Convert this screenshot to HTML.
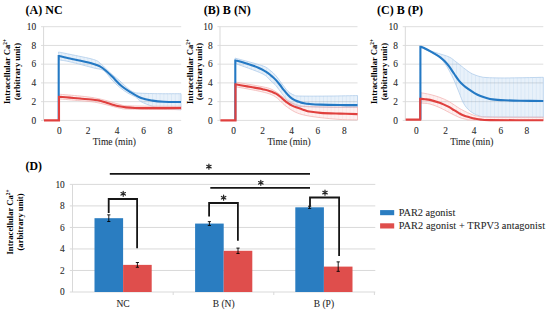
<!DOCTYPE html>
<html><head><meta charset="utf-8"><style>
html,body{margin:0;padding:0;background:#fff;width:550px;height:311px;overflow:hidden;}
svg{display:block;font-family:"Liberation Serif",serif;}
.t{fill:#262626;stroke:#262626;stroke-width:0.08px;}
.b{fill:#000;stroke:#000;stroke-width:0.1px;}
</style></head><body>
<svg width="550" height="311" viewBox="0 0 550 311">
<defs>
<pattern id="hb" width="3.8" height="10" patternUnits="userSpaceOnUse"><rect width="3.8" height="10" fill="#2a7fd0" fill-opacity="0.105"/><rect width="0.7" height="10" fill="#2a7fd0" fill-opacity="0.11"/></pattern>
<pattern id="hr" width="3.8" height="10" patternUnits="userSpaceOnUse"><rect width="3.8" height="10" fill="#e8403e" fill-opacity="0.08"/><rect width="0.7" height="10" fill="#e8403e" fill-opacity="0.08"/></pattern>
</defs>
<line x1="41.0" y1="120.40" x2="181.2" y2="120.40" stroke="#dedede" stroke-width="1"/>
<text x="36.2" y="123.50" font-family="Liberation Serif" font-size="9.4" text-anchor="end" class="t">0</text>
<line x1="41.0" y1="101.66" x2="181.2" y2="101.66" stroke="#dedede" stroke-width="1"/>
<text x="36.2" y="104.76" font-family="Liberation Serif" font-size="9.4" text-anchor="end" class="t">2</text>
<line x1="41.0" y1="82.92" x2="181.2" y2="82.92" stroke="#dedede" stroke-width="1"/>
<text x="36.2" y="86.02" font-family="Liberation Serif" font-size="9.4" text-anchor="end" class="t">4</text>
<line x1="41.0" y1="64.18" x2="181.2" y2="64.18" stroke="#dedede" stroke-width="1"/>
<text x="36.2" y="67.28" font-family="Liberation Serif" font-size="9.4" text-anchor="end" class="t">6</text>
<line x1="41.0" y1="45.44" x2="181.2" y2="45.44" stroke="#dedede" stroke-width="1"/>
<text x="36.2" y="48.54" font-family="Liberation Serif" font-size="9.4" text-anchor="end" class="t">8</text>
<line x1="41.0" y1="26.70" x2="181.2" y2="26.70" stroke="#dedede" stroke-width="1"/>
<text x="36.2" y="29.80" font-family="Liberation Serif" font-size="9.4" text-anchor="end" class="t">10</text>
<line x1="43.6" y1="26.70" x2="43.6" y2="120.40" stroke="#d9d9d9" stroke-width="1"/>
<text x="59.3" y="133.9" font-family="Liberation Serif" font-size="9.4" text-anchor="middle" class="t">0</text>
<text x="88.1" y="133.9" font-family="Liberation Serif" font-size="9.4" text-anchor="middle" class="t">2</text>
<text x="117.1" y="133.9" font-family="Liberation Serif" font-size="9.4" text-anchor="middle" class="t">4</text>
<text x="143.7" y="133.9" font-family="Liberation Serif" font-size="9.4" text-anchor="middle" class="t">6</text>
<text x="170.0" y="133.9" font-family="Liberation Serif" font-size="9.4" text-anchor="middle" class="t">8</text>
<text x="114.4" y="144.5" font-family="Liberation Serif" font-size="9.5" text-anchor="middle" class="t">Time (min)</text>
<text x="25.6" y="13.6" font-family="Liberation Serif" font-size="11.6" font-weight="bold" fill="#000" textLength="37.0" lengthAdjust="spacingAndGlyphs">(A) NC</text>
<path d="M58.50 52.00 C60.42 52.39 64.15 53.09 70.00 54.34 C75.85 55.59 88.38 57.86 93.60 59.50 C98.82 61.13 98.57 61.99 101.30 64.18 C104.03 66.37 106.88 69.80 110.00 72.61 C113.12 75.42 117.00 78.39 120.00 81.05 C123.00 83.70 125.67 86.67 128.00 88.54 C130.33 90.42 131.83 91.51 134.00 92.29 C136.17 93.07 136.67 92.99 141.00 93.23 C145.33 93.46 153.33 93.62 160.00 93.70 C166.67 93.77 177.50 93.70 181.00 93.70 L181.00 109.81 C178.00 109.62 167.75 109.27 163.00 108.69 C158.25 108.11 156.17 107.52 152.50 106.34 C148.83 105.17 143.82 103.22 141.00 101.66 C138.18 100.10 137.77 98.38 135.60 96.98 C133.43 95.57 130.60 94.79 128.00 93.23 C125.40 91.67 122.67 89.79 120.00 87.61 C117.33 85.42 114.68 82.92 112.00 80.11 C109.32 77.30 106.97 72.77 103.90 70.74 C100.83 68.71 99.25 69.41 93.60 67.93 C87.95 66.44 75.68 63.16 70.00 61.84 C64.32 60.51 61.25 60.28 59.50 59.96 Z" fill="url(#hb)" stroke="#aecbea" stroke-width="0.75"/>
<path d="M58.50 94.16 C62.08 94.48 73.98 95.41 80.00 96.04 C86.02 96.66 90.10 97.13 94.60 97.91 C99.10 98.69 102.77 99.63 107.00 100.72 C111.23 101.82 116.17 103.61 120.00 104.47 C123.83 105.33 119.83 105.56 130.00 105.88 C140.17 106.19 172.50 106.27 181.00 106.34 L181.00 109.62 C172.50 109.55 140.17 109.39 130.00 109.16 C119.83 108.92 123.83 108.92 120.00 108.22 C116.17 107.52 111.23 105.95 107.00 104.94 C102.77 103.92 99.10 102.83 94.60 102.13 C90.10 101.43 86.02 101.27 80.00 100.72 C73.98 100.18 62.08 99.16 58.50 98.85 Z" fill="url(#hr)" stroke="#f2b3b2" stroke-width="0.75"/>
<path d="M58.70 120.40 L58.70 56.03 L59.30 56.03 C61.08 56.45 66.43 57.76 70.00 58.56 C73.57 59.35 76.77 59.90 80.70 60.81 C84.63 61.71 90.38 63.06 93.60 63.99 C96.82 64.93 97.85 65.23 100.00 66.43 C102.15 67.63 104.38 69.43 106.50 71.21 C108.62 72.99 110.20 74.64 112.70 77.11 C115.20 79.58 118.55 83.51 121.50 86.01 C124.45 88.51 127.12 90.10 130.40 92.10 C133.68 94.10 137.52 96.58 141.20 98.01 C144.88 99.43 148.75 100.00 152.50 100.63 C156.25 101.25 158.95 101.52 163.70 101.75 C168.45 101.99 178.12 101.99 181.00 102.03" fill="none" stroke="#2479c4" stroke-width="2.1" stroke-linejoin="miter"/>
<path d="M44.00 120.40 L59.00 120.40 L59.00 96.69 L59.30 96.69 C61.08 96.85 66.55 97.32 70.00 97.63 C73.45 97.94 75.83 98.18 80.00 98.57 C84.17 98.96 91.67 99.61 95.00 99.97 C98.33 100.33 98.17 100.32 100.00 100.72 C101.83 101.13 103.88 101.75 106.00 102.41 C108.12 103.07 110.53 104.00 112.70 104.66 C114.87 105.31 116.78 105.89 119.00 106.34 C121.22 106.80 123.33 107.11 126.00 107.38 C128.67 107.64 131.00 107.81 135.00 107.94 C139.00 108.06 142.33 108.11 150.00 108.13 C157.67 108.14 175.83 108.05 181.00 108.03" fill="none" stroke="#e0403e" stroke-width="2.1" stroke-linejoin="miter"/>
<line x1="217.4" y1="120.40" x2="357.5" y2="120.40" stroke="#dedede" stroke-width="1"/>
<text x="212.6" y="123.50" font-family="Liberation Serif" font-size="9.4" text-anchor="end" class="t">0</text>
<line x1="217.4" y1="101.66" x2="357.5" y2="101.66" stroke="#dedede" stroke-width="1"/>
<text x="212.6" y="104.76" font-family="Liberation Serif" font-size="9.4" text-anchor="end" class="t">2</text>
<line x1="217.4" y1="82.92" x2="357.5" y2="82.92" stroke="#dedede" stroke-width="1"/>
<text x="212.6" y="86.02" font-family="Liberation Serif" font-size="9.4" text-anchor="end" class="t">4</text>
<line x1="217.4" y1="64.18" x2="357.5" y2="64.18" stroke="#dedede" stroke-width="1"/>
<text x="212.6" y="67.28" font-family="Liberation Serif" font-size="9.4" text-anchor="end" class="t">6</text>
<line x1="217.4" y1="45.44" x2="357.5" y2="45.44" stroke="#dedede" stroke-width="1"/>
<text x="212.6" y="48.54" font-family="Liberation Serif" font-size="9.4" text-anchor="end" class="t">8</text>
<line x1="217.4" y1="26.70" x2="357.5" y2="26.70" stroke="#dedede" stroke-width="1"/>
<text x="212.6" y="29.80" font-family="Liberation Serif" font-size="9.4" text-anchor="end" class="t">10</text>
<line x1="220.0" y1="26.70" x2="220.0" y2="120.40" stroke="#d9d9d9" stroke-width="1"/>
<text x="233.5" y="133.9" font-family="Liberation Serif" font-size="9.4" text-anchor="middle" class="t">0</text>
<text x="262.7" y="133.9" font-family="Liberation Serif" font-size="9.4" text-anchor="middle" class="t">2</text>
<text x="291.6" y="133.9" font-family="Liberation Serif" font-size="9.4" text-anchor="middle" class="t">4</text>
<text x="317.8" y="133.9" font-family="Liberation Serif" font-size="9.4" text-anchor="middle" class="t">6</text>
<text x="344.3" y="133.9" font-family="Liberation Serif" font-size="9.4" text-anchor="middle" class="t">8</text>
<text x="289.0" y="144.5" font-family="Liberation Serif" font-size="9.5" text-anchor="middle" class="t">Time (min)</text>
<text x="203.7" y="13.6" font-family="Liberation Serif" font-size="11.6" font-weight="bold" fill="#000" textLength="47.0" lengthAdjust="spacingAndGlyphs">(B) B (N)</text>
<path d="M235.00 58.09 C239.50 59.34 256.17 63.56 262.00 65.59 C267.83 67.62 267.67 68.55 270.00 70.27 C272.33 71.99 274.00 73.63 276.00 75.89 C278.00 78.16 280.00 81.28 282.00 83.86 C284.00 86.43 286.00 89.48 288.00 91.35 C290.00 93.23 292.00 94.32 294.00 95.10 C296.00 95.88 294.00 95.88 300.00 96.04 C306.00 96.19 320.42 96.12 330.00 96.04 C339.58 95.96 352.92 95.65 357.50 95.57 L357.50 107.28 C352.92 107.28 339.58 107.44 330.00 107.28 C320.42 107.13 306.00 106.81 300.00 106.34 C294.00 105.88 296.00 105.41 294.00 104.47 C292.00 103.53 290.00 102.52 288.00 100.72 C286.00 98.93 284.00 96.19 282.00 93.70 C280.00 91.20 278.00 88.00 276.00 85.73 C274.00 83.47 272.33 82.14 270.00 80.11 C267.67 78.08 267.67 76.28 262.00 73.55 C256.33 70.82 240.33 65.35 236.00 63.71 Z" fill="url(#hb)" stroke="#aecbea" stroke-width="0.75"/>
<path d="M235.00 81.98 C239.50 82.76 255.83 85.42 262.00 86.67 C268.17 87.92 269.00 88.15 272.00 89.48 C275.00 90.81 277.33 92.76 280.00 94.63 C282.67 96.51 285.33 99.08 288.00 100.72 C290.67 102.36 293.17 103.53 296.00 104.47 C298.83 105.41 299.33 105.91 305.00 106.34 C310.67 106.78 321.25 106.97 330.00 107.09 C338.75 107.22 352.92 107.09 357.50 107.09 L357.50 119.93 C354.58 119.85 346.25 119.85 340.00 119.46 C333.75 119.07 325.83 118.29 320.00 117.59 C314.17 116.89 309.17 116.18 305.00 115.25 C300.83 114.31 298.33 113.61 295.00 111.97 C291.67 110.33 288.33 107.98 285.00 105.41 C281.67 102.83 278.83 98.77 275.00 96.51 C271.17 94.24 268.67 93.46 262.00 91.82 C255.33 90.18 239.50 87.53 235.00 86.67 Z" fill="url(#hr)" stroke="#f2b3b2" stroke-width="0.75"/>
<path d="M235.30 120.40 L235.30 60.43 L235.60 60.43 C236.90 60.79 240.83 61.84 243.40 62.59 C245.97 63.34 248.42 64.04 251.00 64.93 C253.58 65.82 256.73 66.99 258.90 67.93 C261.07 68.87 262.48 69.69 264.00 70.55 C265.52 71.41 266.67 72.11 268.00 73.08 C269.33 74.05 270.67 75.19 272.00 76.36 C273.33 77.53 274.67 78.67 276.00 80.11 C277.33 81.55 278.65 83.26 280.00 84.98 C281.35 86.70 282.77 88.76 284.10 90.42 C285.43 92.07 286.67 93.55 288.00 94.91 C289.33 96.27 290.77 97.60 292.10 98.57 C293.43 99.54 294.68 100.13 296.00 100.72 C297.32 101.32 298.67 101.72 300.00 102.13 C301.33 102.53 302.45 102.86 304.00 103.16 C305.55 103.46 306.55 103.66 309.30 103.91 C312.05 104.16 315.38 104.47 320.50 104.66 C325.62 104.85 333.83 104.96 340.00 105.03 C346.17 105.11 354.58 105.11 357.50 105.13" fill="none" stroke="#2479c4" stroke-width="2.1" stroke-linejoin="miter"/>
<path d="M220.40 120.40 L235.50 120.40 L235.50 84.33 L235.60 84.33 C236.90 84.56 240.83 85.28 243.40 85.73 C245.97 86.18 248.42 86.61 251.00 87.04 C253.58 87.48 256.73 87.95 258.90 88.35 C261.07 88.76 262.48 89.14 264.00 89.48 C265.52 89.82 266.67 90.03 268.00 90.42 C269.33 90.81 270.67 91.27 272.00 91.82 C273.33 92.37 274.67 92.91 276.00 93.70 C277.33 94.48 278.65 95.44 280.00 96.51 C281.35 97.57 282.77 98.97 284.10 100.07 C285.43 101.16 286.67 102.14 288.00 103.07 C289.33 103.99 290.77 104.89 292.10 105.60 C293.43 106.30 294.68 106.78 296.00 107.28 C297.32 107.78 298.50 108.09 300.00 108.59 C301.50 109.09 303.45 109.80 305.00 110.28 C306.55 110.76 306.72 111.06 309.30 111.50 C311.88 111.94 315.38 112.54 320.50 112.90 C325.62 113.26 333.83 113.45 340.00 113.65 C346.17 113.86 354.58 114.04 357.50 114.12" fill="none" stroke="#e0403e" stroke-width="2.1" stroke-linejoin="miter"/>
<line x1="402.7" y1="120.40" x2="543.3" y2="120.40" stroke="#dedede" stroke-width="1"/>
<text x="397.9" y="123.50" font-family="Liberation Serif" font-size="9.4" text-anchor="end" class="t">0</text>
<line x1="402.7" y1="101.66" x2="543.3" y2="101.66" stroke="#dedede" stroke-width="1"/>
<text x="397.9" y="104.76" font-family="Liberation Serif" font-size="9.4" text-anchor="end" class="t">2</text>
<line x1="402.7" y1="82.92" x2="543.3" y2="82.92" stroke="#dedede" stroke-width="1"/>
<text x="397.9" y="86.02" font-family="Liberation Serif" font-size="9.4" text-anchor="end" class="t">4</text>
<line x1="402.7" y1="64.18" x2="543.3" y2="64.18" stroke="#dedede" stroke-width="1"/>
<text x="397.9" y="67.28" font-family="Liberation Serif" font-size="9.4" text-anchor="end" class="t">6</text>
<line x1="402.7" y1="45.44" x2="543.3" y2="45.44" stroke="#dedede" stroke-width="1"/>
<text x="397.9" y="48.54" font-family="Liberation Serif" font-size="9.4" text-anchor="end" class="t">8</text>
<line x1="402.7" y1="26.70" x2="543.3" y2="26.70" stroke="#dedede" stroke-width="1"/>
<text x="397.9" y="29.80" font-family="Liberation Serif" font-size="9.4" text-anchor="end" class="t">10</text>
<line x1="405.3" y1="26.70" x2="405.3" y2="120.40" stroke="#d9d9d9" stroke-width="1"/>
<text x="416.4" y="133.9" font-family="Liberation Serif" font-size="9.4" text-anchor="middle" class="t">0</text>
<text x="445.5" y="133.9" font-family="Liberation Serif" font-size="9.4" text-anchor="middle" class="t">2</text>
<text x="474.2" y="133.9" font-family="Liberation Serif" font-size="9.4" text-anchor="middle" class="t">4</text>
<text x="500.9" y="133.9" font-family="Liberation Serif" font-size="9.4" text-anchor="middle" class="t">6</text>
<text x="526.8" y="133.9" font-family="Liberation Serif" font-size="9.4" text-anchor="middle" class="t">8</text>
<text x="471.8" y="144.5" font-family="Liberation Serif" font-size="9.5" text-anchor="middle" class="t">Time (min)</text>
<text x="377.0" y="13.6" font-family="Liberation Serif" font-size="11.6" font-weight="bold" fill="#000" textLength="46.0" lengthAdjust="spacingAndGlyphs">(C) B (P)</text>
<path d="M421.00 46.38 C422.50 47.08 427.10 49.42 430.00 50.59 C432.90 51.76 435.18 52.33 438.40 53.40 C441.62 54.48 446.37 55.65 449.30 57.06 C452.23 58.46 453.60 60.03 456.00 61.84 C458.40 63.65 461.37 66.13 463.70 67.93 C466.03 69.72 468.12 71.44 470.00 72.61 C471.88 73.78 473.17 74.25 475.00 74.96 C476.83 75.66 479.00 76.39 481.00 76.83 C483.00 77.27 483.83 77.39 487.00 77.58 C490.17 77.77 494.50 77.92 500.00 77.95 C505.50 77.99 512.78 77.88 520.00 77.77 C527.22 77.66 539.42 77.38 543.30 77.30 L543.30 117.21 C534.42 117.15 500.72 117.09 490.00 116.84 C479.28 116.59 482.33 116.68 479.00 115.72 C475.67 114.75 472.55 113.06 470.00 111.03 C467.45 109.00 465.53 106.66 463.70 103.53 C461.87 100.41 460.62 96.19 459.00 92.29 C457.38 88.39 455.62 83.70 454.00 80.11 C452.38 76.52 450.80 73.47 449.30 70.74 C447.80 68.01 446.55 65.90 445.00 63.71 C443.45 61.53 441.70 59.18 440.00 57.62 C438.30 56.06 437.97 56.06 434.80 54.34 C431.63 52.62 423.30 48.49 421.00 47.31 Z" fill="url(#hb)" stroke="#aecbea" stroke-width="0.75"/>
<path d="M421.00 92.76 C422.50 93.04 426.83 93.66 430.00 94.45 C433.17 95.23 436.78 96.24 440.00 97.44 C443.22 98.65 446.13 99.88 449.30 101.66 C452.47 103.44 455.55 106.11 459.00 108.13 C462.45 110.14 466.83 112.40 470.00 113.75 C473.17 115.09 474.67 115.62 478.00 116.18 C481.33 116.75 479.12 116.95 490.00 117.12 C500.88 117.29 534.42 117.20 543.30 117.21 L543.30 120.40 C531.92 120.35 487.88 120.31 475.00 120.12 C462.12 119.93 468.67 119.74 466.00 119.28 C463.33 118.81 461.78 118.43 459.00 117.31 C456.22 116.18 452.47 114.12 449.30 112.53 C446.13 110.94 443.22 109.17 440.00 107.75 C436.78 106.33 433.17 104.78 430.00 104.00 C426.83 103.22 422.50 103.22 421.00 103.07 Z" fill="url(#hr)" stroke="#f2b3b2" stroke-width="0.75"/>
<path d="M420.40 119.65 L420.40 46.85 L420.90 46.85 C421.58 47.11 423.48 47.74 425.00 48.44 C426.52 49.14 428.37 50.16 430.00 51.06 C431.63 51.97 433.20 52.90 434.80 53.87 C436.40 54.84 437.98 55.67 439.60 56.87 C441.22 58.07 442.88 59.45 444.50 61.09 C446.12 62.73 447.70 64.60 449.30 66.71 C450.90 68.82 452.50 71.43 454.10 73.74 C455.70 76.05 457.30 78.61 458.90 80.58 C460.50 82.55 462.10 84.11 463.70 85.54 C465.30 86.98 466.70 87.95 468.50 89.20 C470.30 90.45 472.50 91.90 474.50 93.04 C476.50 94.18 478.50 95.19 480.50 96.04 C482.50 96.88 484.48 97.54 486.50 98.10 C488.52 98.66 489.58 99.05 492.60 99.41 C495.62 99.77 500.03 100.04 504.60 100.25 C509.17 100.47 513.55 100.60 520.00 100.72 C526.45 100.85 539.42 100.96 543.30 101.00" fill="none" stroke="#2479c4" stroke-width="2.1" stroke-linejoin="miter"/>
<path d="M405.70 119.65 L420.20 119.65 L420.20 98.85 L420.60 98.85 C421.33 98.91 423.43 99.05 425.00 99.22 C426.57 99.40 427.57 99.29 430.00 99.88 C432.43 100.47 437.18 101.96 439.60 102.78 C442.02 103.61 442.88 104.11 444.50 104.85 C446.12 105.58 447.72 106.31 449.30 107.19 C450.88 108.06 452.40 109.11 454.00 110.09 C455.60 111.08 457.28 112.19 458.90 113.09 C460.52 114.00 461.85 114.81 463.70 115.53 C465.55 116.25 468.15 116.89 470.00 117.40 C471.85 117.92 472.97 118.24 474.80 118.62 C476.63 118.99 478.47 119.40 481.00 119.65 C483.53 119.90 479.62 120.03 490.00 120.12 C500.38 120.21 534.42 120.20 543.30 120.21" fill="none" stroke="#e0403e" stroke-width="2.1" stroke-linejoin="miter"/>
<g transform="translate(10.00,71.50) rotate(-90)"><text x="0" y="0" font-family="Liberation Serif" font-size="8.6" font-weight="bold" text-anchor="middle" fill="#000">Intracellular Ca<tspan font-size="5.33" dy="-2.7">2+</tspan></text><text x="0" y="9.8" font-family="Liberation Serif" font-size="8.6" font-weight="bold" text-anchor="middle" fill="#000">(arbitrary unit)</text></g>
<g transform="translate(192.70,71.50) rotate(-90)"><text x="0" y="0" font-family="Liberation Serif" font-size="8.6" font-weight="bold" text-anchor="middle" fill="#000">Intracellular Ca<tspan font-size="5.33" dy="-2.7">2+</tspan></text><text x="0" y="9.8" font-family="Liberation Serif" font-size="8.6" font-weight="bold" text-anchor="middle" fill="#000">(arbitrary unit)</text></g>
<g transform="translate(376.90,71.50) rotate(-90)"><text x="0" y="0" font-family="Liberation Serif" font-size="8.6" font-weight="bold" text-anchor="middle" fill="#000">Intracellular Ca<tspan font-size="5.33" dy="-2.7">2+</tspan></text><text x="0" y="9.8" font-family="Liberation Serif" font-size="8.6" font-weight="bold" text-anchor="middle" fill="#000">(arbitrary unit)</text></g>
<text x="25.6" y="169.8" font-family="Liberation Serif" font-size="11.6" font-weight="bold" fill="#000" textLength="16.4" lengthAdjust="spacingAndGlyphs">(D)</text>
<line x1="69.8" y1="292.00" x2="375.3" y2="292.00" stroke="#d9d9d9" stroke-width="1"/>
<text x="64.8" y="295.10" font-family="Liberation Serif" font-size="9.4" text-anchor="end" class="t">0</text>
<line x1="69.8" y1="270.48" x2="375.3" y2="270.48" stroke="#d9d9d9" stroke-width="1"/>
<text x="64.8" y="273.58" font-family="Liberation Serif" font-size="9.4" text-anchor="end" class="t">2</text>
<line x1="69.8" y1="248.96" x2="375.3" y2="248.96" stroke="#d9d9d9" stroke-width="1"/>
<text x="64.8" y="252.06" font-family="Liberation Serif" font-size="9.4" text-anchor="end" class="t">4</text>
<line x1="69.8" y1="227.44" x2="375.3" y2="227.44" stroke="#d9d9d9" stroke-width="1"/>
<text x="64.8" y="230.54" font-family="Liberation Serif" font-size="9.4" text-anchor="end" class="t">6</text>
<line x1="69.8" y1="205.92" x2="375.3" y2="205.92" stroke="#d9d9d9" stroke-width="1"/>
<text x="64.8" y="209.02" font-family="Liberation Serif" font-size="9.4" text-anchor="end" class="t">8</text>
<line x1="69.8" y1="184.40" x2="375.3" y2="184.40" stroke="#d9d9d9" stroke-width="1"/>
<text x="64.8" y="187.50" font-family="Liberation Serif" font-size="9.4" text-anchor="end" class="t">10</text>
<line x1="72.5" y1="184.40" x2="72.5" y2="292.00" stroke="#d9d9d9" stroke-width="1"/>
<line x1="173.2" y1="292.0" x2="173.2" y2="295.0" stroke="#d9d9d9" stroke-width="1"/>
<line x1="273.8" y1="292.0" x2="273.8" y2="295.0" stroke="#d9d9d9" stroke-width="1"/>
<line x1="374.4" y1="292.0" x2="374.4" y2="295.0" stroke="#d9d9d9" stroke-width="1"/>
<g transform="translate(12.80,222.00) rotate(-90)"><text x="0" y="0" font-family="Liberation Serif" font-size="8.6" font-weight="bold" text-anchor="middle" fill="#000">Intracellular Ca<tspan font-size="5.33" dy="-2.7">2+</tspan></text><text x="0" y="9.8" font-family="Liberation Serif" font-size="8.6" font-weight="bold" text-anchor="middle" fill="#000">(arbitrary unit)</text></g>
<rect x="94.50" y="218.19" width="28.60" height="73.81" fill="#2a7dc1"/>
<rect x="123.10" y="264.88" width="28.60" height="27.12" fill="#df4e4c"/>
<path d="M108.80 214.85V221.52M107.20 214.85H110.40M107.20 221.52H110.40" stroke="#000" stroke-width="0.9" fill="none"/>
<path d="M137.40 262.52V267.25M135.80 262.52H139.00M135.80 267.25H139.00" stroke="#000" stroke-width="0.9" fill="none"/>
<text x="123.10" y="306.6" font-family="Liberation Serif" font-size="9.5" text-anchor="middle" class="t">NC</text>
<rect x="195.10" y="223.57" width="28.60" height="68.43" fill="#2a7dc1"/>
<rect x="223.70" y="250.79" width="28.60" height="41.21" fill="#df4e4c"/>
<path d="M209.40 221.63V225.50M207.80 221.63H211.00M207.80 225.50H211.00" stroke="#000" stroke-width="0.9" fill="none"/>
<path d="M238.00 248.10V253.48M236.40 248.10H239.60M236.40 253.48H239.60" stroke="#000" stroke-width="0.9" fill="none"/>
<text x="223.70" y="306.6" font-family="Liberation Serif" font-size="9.5" text-anchor="middle" class="t">B (N)</text>
<rect x="295.30" y="207.32" width="28.60" height="84.68" fill="#2a7dc1"/>
<rect x="323.90" y="266.61" width="28.60" height="25.39" fill="#df4e4c"/>
<path d="M309.60 206.24V208.39M308.00 206.24H311.20M308.00 208.39H311.20" stroke="#000" stroke-width="0.9" fill="none"/>
<path d="M338.20 261.87V271.34M336.60 261.87H339.80M336.60 271.34H339.80" stroke="#000" stroke-width="0.9" fill="none"/>
<text x="323.90" y="306.6" font-family="Liberation Serif" font-size="9.5" text-anchor="middle" class="t">B (P)</text>
<path d="M108.70 212.90V199.00H137.10V248.20" stroke="#161616" stroke-width="1.8" fill="none"/><path d="M123.20 191.25V196.35M120.99 192.53L125.41 195.08M125.41 192.53L120.99 195.08" stroke="#262626" stroke-width="1.2" stroke-linecap="round" fill="none"/>
<path d="M209.10 216.50V203.00H237.90V240.70" stroke="#161616" stroke-width="1.8" fill="none"/><path d="M223.60 195.15V200.25M221.39 196.42L225.81 198.97M225.81 196.42L221.39 198.97" stroke="#262626" stroke-width="1.2" stroke-linecap="round" fill="none"/>
<path d="M310.00 206.40V197.50H339.10V256.00" stroke="#161616" stroke-width="1.8" fill="none"/><path d="M325.00 190.05V195.15M322.79 191.32L327.21 193.88M327.21 191.32L322.79 193.88" stroke="#262626" stroke-width="1.2" stroke-linecap="round" fill="none"/>
<path d="M109.8 173.9H310" stroke="#161616" stroke-width="1.8"/>
<path d="M208.90 164.05V169.15M206.69 165.32L211.11 167.88M211.11 165.32L206.69 167.88" stroke="#262626" stroke-width="1.2" stroke-linecap="round" fill="none"/>
<path d="M210.3 187.9H310" stroke="#161616" stroke-width="1.8"/>
<path d="M260.80 180.25V185.35M258.59 181.53L263.01 184.08M263.01 181.53L258.59 184.08" stroke="#262626" stroke-width="1.2" stroke-linecap="round" fill="none"/>
<rect x="380.1" y="210.1" width="14.1" height="5.1" fill="#2a7dc1"/>
<rect x="380.1" y="223.3" width="14.1" height="5.2" fill="#df4e4c"/>
<text x="398.7" y="216.3" font-family="Liberation Serif" font-size="10.3" class="t">PAR2 agonist</text>
<text x="398.7" y="229.0" font-family="Liberation Serif" font-size="10.3" class="t" textLength="146.3" lengthAdjust="spacing">PAR2 agonist + TRPV3 antagonist</text>
</svg>
</body></html>
